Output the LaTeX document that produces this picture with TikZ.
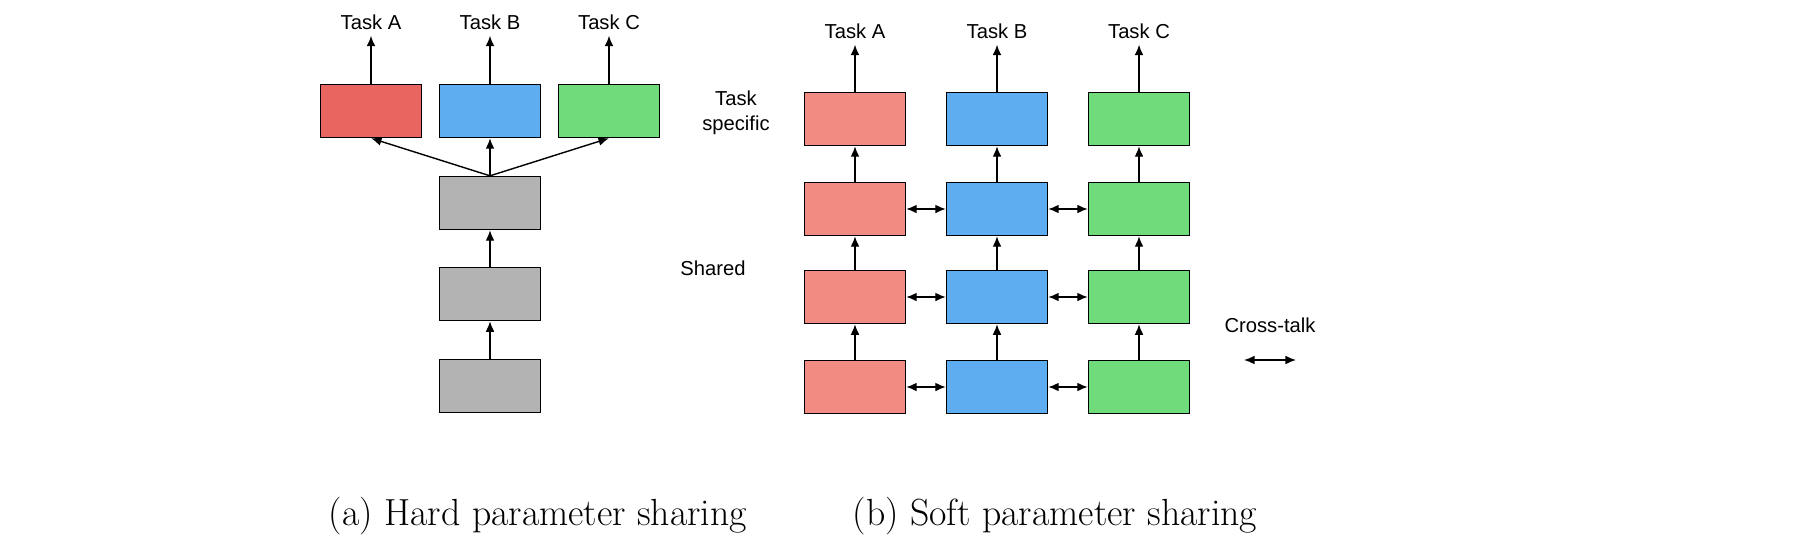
\documentclass[tikz,border=0pt]{standalone}
\usepackage{fontspec}
\newfontfamily\labelfont{Liberation Sans}
\usetikzlibrary{arrows.meta,positioning}
\definecolor{hardred}{HTML}{E8665F}
\definecolor{softred}{HTML}{F28B82}
\definecolor{taskblue}{HTML}{5EADF0}
\definecolor{taskgreen}{HTML}{70DB7A}
\definecolor{sharedgray}{HTML}{B3B3B3}
\begin{document}
\begin{tikzpicture}[x=0.02cm,y=-0.02cm,
  layer/.style={draw,line width=0.8pt,minimum width=2.02cm,minimum height=1.06cm,inner sep=0pt},
  lbl/.style={font=\labelfont\fontsize{11.5}{14}\selectfont,align=center},
  up/.style={-{Latex[length=6pt,width=5pt]},line width=0.8pt},
  both/.style={{Latex[length=6pt,width=5pt]}-{Latex[length=6pt,width=5pt]},line width=0.8pt}]
 \useasboundingbox (0,0) rectangle (1798,559);
 % (a) hard parameter sharing
 \node[layer,fill=hardred]    (hA) at (371,111) {};
 \node[layer,fill=taskblue]   (hB) at (490,111) {};
 \node[layer,fill=taskgreen]  (hC) at (609,111) {};
 \node[layer,fill=sharedgray] (s3) at (490,203) {};
 \node[layer,fill=sharedgray] (s2) at (490,294) {};
 \node[layer,fill=sharedgray] (s1) at (490,386) {};
 \node[lbl] (tA) at (371,22) {Task A};
 \node[lbl] (tB) at (490,22) {Task B};
 \node[lbl] (tC) at (609,22) {Task C};
 \node[lbl] (spec) at (736,113) {Task\\specific};
 \node[lbl] (shared) at (713,268) {Shared};
 \draw[up] (s1) -- (s2);
 \draw[up] (s2) -- (s3);
 \draw[up] (s3.north) -- (hA.south);
 \draw[up] (s3.north) -- (hB.south);
 \draw[up] (s3.north) -- (hC.south);
 \draw[up] (hA) -- (tA);
 \draw[up] (hB) -- (tB);
 \draw[up] (hC) -- (tC);
 % (b) soft parameter sharing
 \foreach \c/\x/\col in {a/855/softred,b/997/taskblue,c/1139/taskgreen}{
  \foreach \r/\y in {4/119,3/209,2/297,1/387}
   \node[layer,fill=\col] (\c\r) at (\x,\y) {};
  \draw[up] (\c1) -- (\c2);
  \draw[up] (\c2) -- (\c3);
  \draw[up] (\c3) -- (\c4);
 }
 \foreach \r in {1,2,3}{
  \draw[both] (a\r) -- (b\r);
  \draw[both] (b\r) -- (c\r);
 }
 \node[lbl] (sA) at (855,31) {Task A};
 \node[lbl] (sB) at (997,31) {Task B};
 \node[lbl] (sC) at (1139,31) {Task C};
 \draw[up] (a4) -- (sA);
 \draw[up] (b4) -- (sB);
 \draw[up] (c4) -- (sC);
 \node[lbl] (talk) at (1270,325) {Cross-talk};
 \coordinate (tl) at (1244,360);
 \coordinate (tr) at (1296,360);
 \draw[both] (tl) -- (tr);
 % captions
 \node[font=\fontsize{21.5}{26}\selectfont] (capa) at (538,516) {(a) Hard parameter sharing};
 \node[font=\fontsize{21.5}{26}\selectfont] (capb) at (1055,516) {(b) Soft parameter sharing};
\end{tikzpicture}
\end{document}
